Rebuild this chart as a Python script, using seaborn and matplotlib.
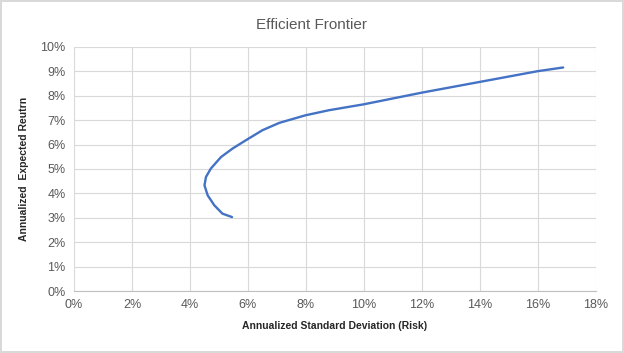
import matplotlib
matplotlib.use("Agg")
import matplotlib.pyplot as plt
import matplotlib.ticker as mtick
import pandas as pd
import seaborn as sns

# portfolio risk / return (in %)
risk = [5.45, 5.12, 4.84, 4.61, 4.50, 4.55, 4.72, 5.07, 5.47, 5.93, 6.50,
        7.08, 7.98, 8.80, 9.99, 12.00, 14.00, 16.00, 16.87]
ret = [3.03, 3.17, 3.51, 3.92, 4.33, 4.67, 5.02, 5.49, 5.84, 6.18, 6.59,
       6.89, 7.20, 7.41, 7.65, 8.13, 8.57, 9.01, 9.16]

x_ticks = list(range(0, 19, 2))
y_ticks = list(range(0, 11, 1))

sns.set_style("white")
plt.rcParams["font.family"] = ["Liberation Sans", "DejaVu Sans"]

data = pd.DataFrame({"risk": risk, "ret": ret})

fig = plt.figure(figsize=(6.24, 3.53), dpi=100)
fig.patch.set_edgecolor("#D9D9D9")
fig.patch.set_linewidth(1.5)
ax = fig.add_axes([0.1186, 0.1756, 0.8364, 0.6913])

sns.lineplot(data=data, x="risk", y="ret", sort=False, estimator=None,
             color="#4472C4", linewidth=1.7, ax=ax)

ax.set_xlim(0, 18)
ax.set_ylim(0, 10)
ax.set_xticks(x_ticks)
ax.set_yticks(y_ticks)
ax.xaxis.set_major_formatter(mtick.PercentFormatter(decimals=0))
ax.yaxis.set_major_formatter(mtick.PercentFormatter(decimals=0))
ax.tick_params(length=0, labelsize=9, colors="#595959", pad=6)
ax.grid(True, color="#D9D9D9", linewidth=0.8)
for s in ["top", "right", "left"]:
    ax.spines[s].set_visible(False)
ax.spines["bottom"].set_color("#BFBFBF")

fig.text(0.5, 0.93, "Efficient Frontier", fontsize=11, color="#595959",
         ha="center", va="center")
ax.set_xlabel("Annualized Standard Deviation (Risk)", fontsize=7.5,
              fontweight="bold", color="#262626", labelpad=7)
ax.set_ylabel("Annualized  Expected Reutrn", fontsize=7.5,
              fontweight="bold", color="#262626", labelpad=8)

fig.savefig("out.png", dpi=100)
